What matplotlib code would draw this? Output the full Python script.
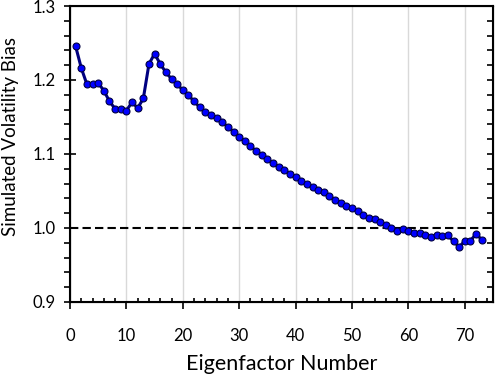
import matplotlib.pyplot as plt
from matplotlib.ticker import MultipleLocator

factor = list(range(1, 74))
bias = [1.2455, 1.2162, 1.194, 1.195, 1.196, 1.1856, 1.1712, 1.161, 1.161, 1.1586,
        1.170, 1.162, 1.175, 1.2216, 1.2355, 1.2216, 1.2104, 1.2014, 1.194, 1.1865,
        1.1793, 1.1712, 1.163, 1.1563, 1.1527, 1.149, 1.1428, 1.1365, 1.130, 1.1234,
        1.1172, 1.1104, 1.104, 1.0982, 1.0928, 1.0874, 1.0828, 1.0784, 1.0734, 1.0685,
        1.0635, 1.059, 1.055, 1.0514, 1.0482, 1.0428, 1.0383, 1.0334, 1.0293, 1.0266,
        1.0226, 1.0176, 1.014, 1.0126, 1.0081, 1.004, 0.9996, 0.996, 0.998, 0.996,
        0.993, 0.993, 0.9905, 0.988, 0.991, 0.9896, 0.990, 0.982, 0.9743, 0.9824,
        0.9828, 0.9919, 0.9842]

plt.rcParams['font.family'] = ['Lato', 'DejaVu Sans']

fig = plt.figure(figsize=(5, 3.76), dpi=100)
ax = fig.add_axes([0.14, 0.197, 0.846, 0.787])

ax.xaxis.grid(True, color='#d9d9d9', linewidth=1)
ax.set_axisbelow(True)
ax.axhline(1.0, color='black', linestyle=(0, (4, 2)), linewidth=1.5, zorder=2)
ax.plot(factor, bias, color='#000080', linewidth=2.2, marker='o', markersize=5,
        markerfacecolor='#0000ff', markeredgecolor='#000040', markeredgewidth=0.8, zorder=3)

ax.set_xlim(0, 75)
ax.set_ylim(0.9, 1.3)
ax.xaxis.set_major_locator(MultipleLocator(10))
ax.xaxis.set_minor_locator(MultipleLocator(2))
ax.yaxis.set_major_locator(MultipleLocator(0.1))
ax.yaxis.set_minor_locator(MultipleLocator(0.02))
ax.yaxis.set_major_formatter(plt.FormatStrFormatter('%.1f'))

ax.tick_params(axis='x', which='major', direction='out', length=5, width=1.2, labelsize=12, pad=14)
ax.tick_params(axis='x', which='minor', direction='in', length=3, width=1.2)
ax.tick_params(axis='y', which='major', direction='inout', length=8, width=1.2, labelsize=12,
               right=False, pad=6)
ax.tick_params(axis='y', which='minor', direction='out', length=4, width=1.2)
for s in ax.spines.values():
    s.set_linewidth(1.5)

ax2 = ax.twinx()
ax2.set_ylim(0.9, 1.3)
ax2.yaxis.set_major_locator(MultipleLocator(0.02))
ax2.tick_params(axis='y', direction='in', length=4, width=1.2, labelright=False)

ax.set_xlabel('Eigenfactor Number', fontsize=15.5, va='top')
ax.xaxis.set_label_coords(0.5, -0.175)
ax.set_ylabel('Simulated Volatility Bias', fontsize=13.5)
ax.yaxis.set_label_coords(-0.12, 0.56)

fig.savefig('out.png', dpi=100)
